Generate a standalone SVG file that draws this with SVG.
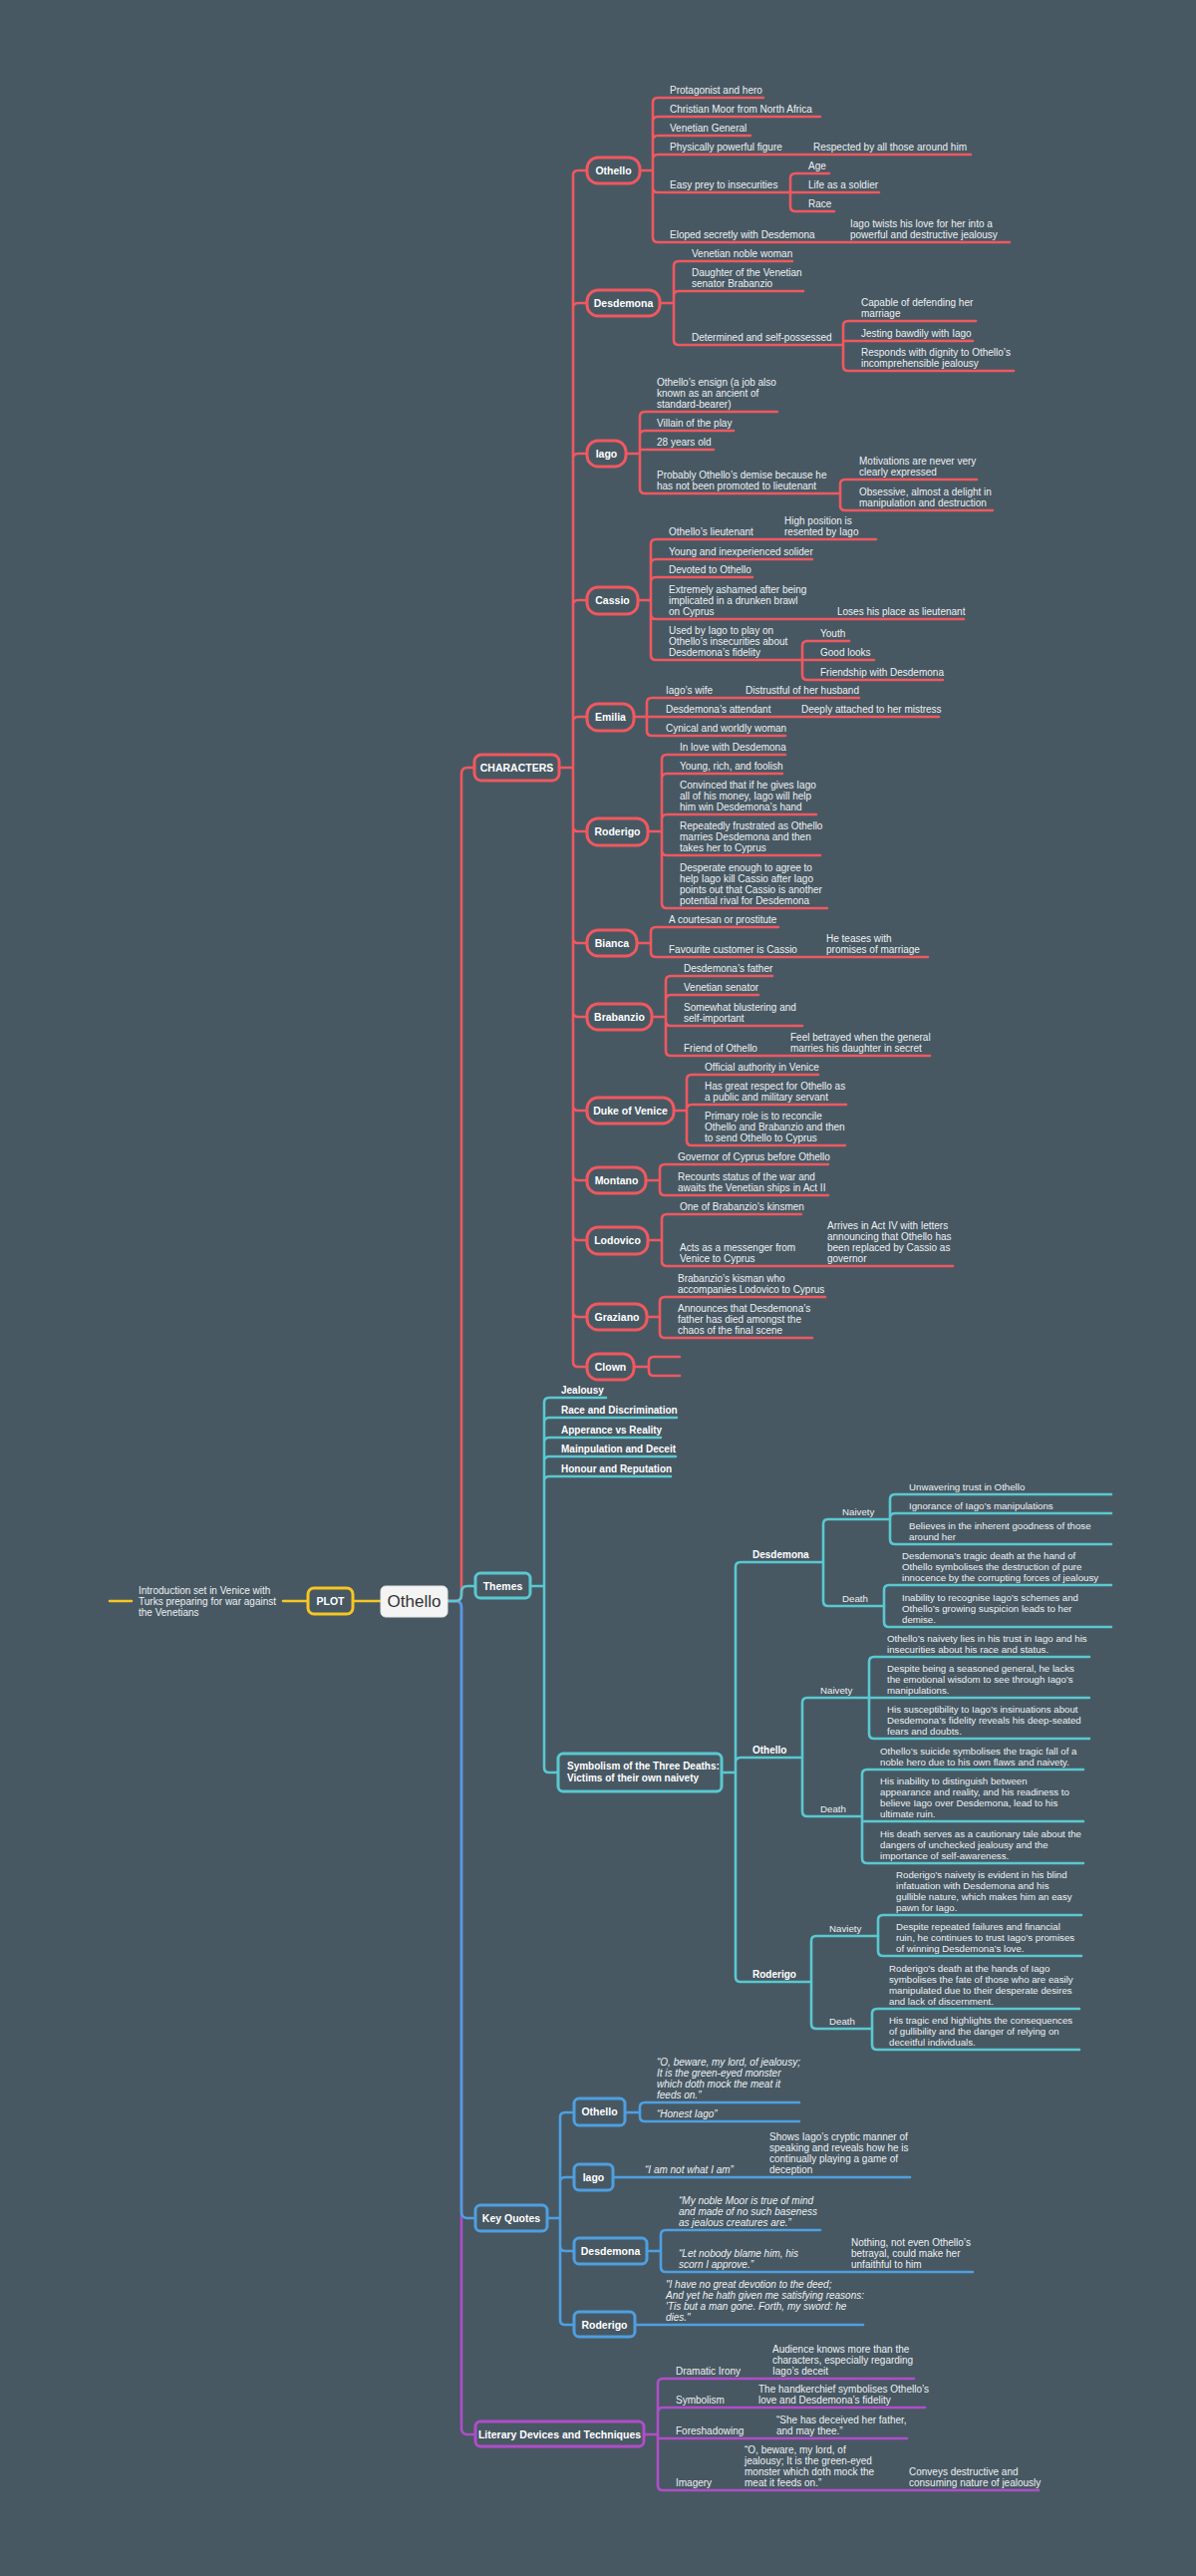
<svg xmlns="http://www.w3.org/2000/svg" width="1200" height="2584" viewBox="0 0 1200 2584">
<style>
text{font-family:"Liberation Sans",Arial,Helvetica,sans-serif;font-size:10px;fill:#eef0f2}
.b{font-weight:bold;fill:#fff;font-size:10.5px}
.c{text-anchor:middle}
.i{font-style:italic}
.s{font-size:9.7px}
path{fill:none;stroke-width:2.6;stroke-linecap:round;stroke-linejoin:round}
.r{stroke:#f0585f}.tl{stroke:#5ac8d0}.bl{stroke:#4f9fe0}.pu{stroke:#b04dc8}.ye{stroke:#f5c623}
rect{fill:#475863;stroke-width:3}
</style>
<rect x="0" y="0" width="1200" height="2584" style="fill:#475863;stroke:none"/>
<g id="connectors">
<path class="pu" d="M449 1606H457Q463 1606 463 1612V2436Q463 2442 469 2442H477"/>
<path class="bl" d="M449 1606H457Q463 1606 463 1612V2219Q463 2225 469 2225H477"/>
<path class="r" d="M449 1606H457Q463 1606 463 1600V776Q463 770 469 770H476"/>
<path class="tl" d="M449 1606H457Q463 1606 463 1600V1597Q463 1591 469 1591H477"/>
<path class="ye" d="M354 1606H382M284 1606H309M110 1606H132"/>
<g class="r">
<path d="M561 770H575V176Q575 171 580 171H589M561 770H575V309Q575 304 580 304H589M561 770H575V460Q575 455 580 455H589M561 770H575V607Q575 602 580 602H589M561 770H575V724Q575 719 580 719H589M561 770H575V829Q575 834 580 834H589M561 770H575V941Q575 946 580 946H589M561 770H575V1015Q575 1020 580 1020H589M561 770H575V1109Q575 1114 580 1114H589M561 770H575V1179Q575 1184 580 1184H589M561 770H575V1239Q575 1244 580 1244H589M561 770H575V1316Q575 1321 580 1321H589M561 770H575V1366Q575 1371 580 1371H589"/>
<path d="M642 171H655V103Q655 98 660 98H766M642 171H655V122Q655 117 660 117H823M642 171H655V141Q655 136 660 136H753M642 171H655V160Q655 155 660 155H974M642 171H655V188Q655 193 660 193H793M642 171H655V238Q655 243 660 243H1013"/>
<path d="M793 193V179Q793 174 798 174H832M793 193H882M793 193V207Q793 212 798 212H837"/>
<path d="M662 304H676V267Q676 262 681 262H795M662 304H676V297Q676 292 681 292H806M662 304H676V341Q676 346 681 346H846"/>
<path d="M846 346V327Q846 322 851 322H979M846 346V342H976M846 346V367Q846 372 851 372H1017"/>
<path d="M628 455H642V418Q642 413 647 413H780M628 455H642V437Q642 432 647 432H736M628 455H642V451H716M628 455H642V490Q642 495 647 495H843"/>
<path d="M843 495V486Q843 481 848 481H980M843 495V507Q843 512 848 512H996"/>
<path d="M640 602H653V546Q653 541 658 541H879M640 602H653V566Q653 561 658 561H815M640 602H653V584Q653 579 658 579H755M640 602H653V616Q653 621 658 621H967M640 602H653V657Q653 662 658 662H805"/>
<path d="M805 662V648Q805 643 810 643H852M805 662H877M805 662V677Q805 682 810 682H946"/>
<path d="M636 719H649V705Q649 700 654 700H862M636 719H942M636 719H649V733Q649 738 654 738H788"/>
<path d="M650 834H664V762Q664 757 669 757H788M650 834H664V781Q664 776 669 776H785M650 834H664V822Q664 817 669 817H819M650 834H664V853Q664 858 669 858H823M650 834H664V906Q664 911 669 911H830"/>
<path d="M639 946H653V935Q653 930 658 930H781M639 946H653V955Q653 960 658 960H931"/>
<path d="M654 1020H668V984Q668 979 673 979H775M654 1020H668V1003Q668 998 673 998H761M654 1020H668V1024Q668 1029 673 1029H805M654 1020H668V1054Q668 1059 673 1059H933"/>
<path d="M676 1114H689V1083Q689 1078 694 1078H821M676 1114H689V1113Q689 1108 694 1108H849M676 1114H689V1144Q689 1149 694 1149H848"/>
<path d="M648 1184H662V1173Q662 1168 667 1168H831M648 1184H662V1194Q662 1199 667 1199H831"/>
<path d="M650 1244H664V1223Q664 1218 669 1218H804M650 1244H664V1265Q664 1270 669 1270H956"/>
<path d="M649 1321H662V1306Q662 1301 667 1301H828M649 1321H662V1337Q662 1342 667 1342H815"/>
<path d="M636 1371H651V1366Q651 1361 656 1361H682M636 1371H651V1375Q651 1380 656 1380H682"/>
</g>
<g class="tl">
<path d="M532 1591H546V1407Q546 1402 551 1402H608M532 1591H546V1427Q546 1422 551 1422H679M532 1591H546V1447Q546 1442 551 1442H663M532 1591H546V1466Q546 1461 551 1461H678M532 1591H546V1486Q546 1481 551 1481H673M532 1591H546V1773Q546 1778 551 1778H560"/>
<path d="M724 1778H738V1572Q738 1567 743 1567H826M724 1778H738V1768Q738 1763 743 1763H805M724 1778H738V1983Q738 1988 743 1988H814"/>
<path d="M826 1567V1529Q826 1524 831 1524H893M826 1567V1606Q826 1611 831 1611H887"/>
<path d="M893 1524V1504Q893 1499 898 1499H1115M893 1524V1523Q893 1518 898 1518H1115M893 1524V1544Q893 1549 898 1549H1115"/>
<path d="M887 1611V1595Q887 1590 892 1590H1115M887 1611V1627Q887 1632 892 1632H1115"/>
<path d="M805 1763V1708Q805 1703 810 1703H872M805 1763V1817Q805 1822 810 1822H865"/>
<path d="M872 1703V1667Q872 1662 877 1662H1093M872 1703H1093M872 1703V1739Q872 1744 877 1744H1093"/>
<path d="M865 1822V1780Q865 1775 870 1775H1087M865 1822V1827H1087M865 1822V1864Q865 1869 870 1869H1087"/>
<path d="M814 1988V1947Q814 1942 819 1942H881M814 1988V2030Q814 2035 819 2035H875"/>
<path d="M881 1942V1926Q881 1921 886 1921H1085M881 1942V1957Q881 1962 886 1962H1085"/>
<path d="M875 2035V2020Q875 2015 880 2015H1083M875 2035V2051Q875 2056 880 2056H1083"/>
</g>
<g class="bl">
<path d="M549 2225H562V2124Q562 2119 567 2119H576M549 2225H562V2189Q562 2184 567 2184H576M549 2225H562V2253Q562 2258 567 2258H576M549 2225H562V2327Q562 2332 567 2332H576"/>
<path d="M627 2119H642V2114Q642 2109 647 2109H802M627 2119H642V2123Q642 2128 647 2128H802"/>
<path d="M615 2184H913"/>
<path d="M649 2258H663V2242Q663 2237 668 2237H823M649 2258H663V2274Q663 2279 668 2279H976"/>
<path d="M637 2332H866"/>
</g>
<g class="pu">
<path d="M646 2442H660V2391Q660 2386 665 2386H917M646 2442H660V2420Q660 2415 665 2415H928M646 2442H660V2446H910M646 2442H660V2493Q660 2498 665 2498H1042"/>
</g>
</g>
<g id="root"><rect x="382" y="1591" width="67" height="31" rx="5" style="fill:#f4f4f4;stroke:#e6e6e6;stroke-width:1"/><text x="415.5" y="1612" class="c" style="font-size:17px;fill:#333">Othello</text></g>
<g id="plot"><rect class="ye" x="309" y="1593" width="45" height="26" rx="6"/><text x="331.5" y="1610" class="b c">PLOT</text>
<text x="139" y="1599">Introduction set in Venice with<tspan x="139" dy="11">Turks preparing for war against</tspan><tspan x="139" dy="11">the Venetians</tspan></text></g>
<g id="characters"><rect class="r" x="476" y="757" width="85" height="26" rx="7"/><text x="518.5" y="774" class="b c">CHARACTERS</text></g>
<g id="char-othello"><rect class="r" x="589" y="158" width="53" height="26" rx="11"/><text x="615.5" y="175" class="b c">Othello</text>
<text x="672" y="94">Protagonist and hero</text><text x="672" y="113">Christian Moor from North Africa</text><text x="672" y="132">Venetian General</text><text x="672" y="151">Physically powerful figure</text><text x="816" y="151">Respected by all those around him</text><text x="672" y="189">Easy prey to insecurities</text><text x="811" y="170">Age</text><text x="811" y="189">Life as a soldier</text><text x="811" y="208">Race</text><text x="672" y="239">Eloped secretly with Desdemona</text><text x="853" y="228">Iago twists his love for her into a<tspan x="853" dy="11">powerful and destructive jealousy</tspan></text></g>
<g id="char-desdemona"><rect class="r" x="589" y="291" width="73" height="26" rx="11"/><text x="625.5" y="308" class="b c">Desdemona</text>
<text x="694" y="258">Venetian noble woman</text><text x="694" y="277">Daughter of the Venetian<tspan x="694" dy="11">senator Brabanzio</tspan></text><text x="694" y="342">Determined and self-possessed</text><text x="864" y="307">Capable of defending her<tspan x="864" dy="11">marriage</tspan></text><text x="864" y="338">Jesting bawdily with Iago</text><text x="864" y="357">Responds with dignity to Othello’s<tspan x="864" dy="11">incomprehensible jealousy</tspan></text></g>
<g id="char-iago"><rect class="r" x="589" y="442" width="39" height="26" rx="11"/><text x="608.5" y="459" class="b c">Iago</text>
<text x="659" y="387">Othello’s ensign (a job also<tspan x="659" dy="11">known as an ancient of</tspan><tspan x="659" dy="11">standard-bearer)</tspan></text><text x="659" y="428">Villain of the play</text><text x="659" y="447">28 years old</text><text x="659" y="480">Probably Othello’s demise because he<tspan x="659" dy="11">has not been promoted to lieutenant</tspan></text><text x="862" y="466">Motivations are never very<tspan x="862" dy="11">clearly expressed</tspan></text><text x="862" y="497">Obsessive, almost a delight in<tspan x="862" dy="11">manipulation and destruction</tspan></text></g>
<g id="char-cassio"><rect class="r" x="589" y="589" width="51" height="27" rx="11"/><text x="614.5" y="606" class="b c">Cassio</text>
<text x="671" y="537">Othello’s lieutenant</text><text x="787" y="526">High position is<tspan x="787" dy="11">resented by Iago</tspan></text><text x="671" y="557">Young and inexperienced solider</text><text x="671" y="575">Devoted to Othello</text><text x="671" y="595">Extremely ashamed after being<tspan x="671" dy="11">implicated in a drunken brawl</tspan><tspan x="671" dy="11">on Cyprus</tspan></text><text x="840" y="617">Loses his place as lieutenant</text><text x="671" y="636">Used by Iago to play on<tspan x="671" dy="11">Othello’s insecurities about</tspan><tspan x="671" dy="11">Desdemona’s fidelity</tspan></text><text x="823" y="639">Youth</text><text x="823" y="658">Good looks</text><text x="823" y="678">Friendship with Desdemona</text></g>
<g id="char-emilia"><rect class="r" x="589" y="706" width="47" height="27" rx="11"/><text x="612.5" y="723" class="b c">Emilia</text>
<text x="668" y="696">Iago’s wife</text><text x="748" y="696">Distrustful of her husband</text><text x="668" y="715">Desdemona’s attendant</text><text x="804" y="715">Deeply attached to her mistress</text><text x="668" y="734">Cynical and worldly woman</text></g>
<g id="char-roderigo"><rect class="r" x="589" y="821" width="61" height="27" rx="11"/><text x="619.5" y="838" class="b c">Roderigo</text>
<text x="682" y="753">In love with Desdemona</text><text x="682" y="772">Young, rich, and foolish</text><text x="682" y="791">Convinced that if he gives Iago<tspan x="682" dy="11">all of his money, Iago will help</tspan><tspan x="682" dy="11">him win Desdemona’s hand</tspan></text><text x="682" y="832">Repeatedly frustrated as Othello<tspan x="682" dy="11">marries Desdemona and then</tspan><tspan x="682" dy="11">takes her to Cyprus</tspan></text><text x="682" y="874">Desperate enough to agree to<tspan x="682" dy="11">help Iago kill Cassio after Iago</tspan><tspan x="682" dy="11">points out that Cassio is another</tspan><tspan x="682" dy="11">potential rival for Desdemona</tspan></text></g>
<g id="char-bianca"><rect class="r" x="589" y="933" width="50" height="26" rx="11"/><text x="614" y="950" class="b c">Bianca</text>
<text x="671" y="926">A courtesan or prostitute</text><text x="671" y="956">Favourite customer is Cassio</text><text x="829" y="945">He teases with<tspan x="829" dy="11">promises of marriage</tspan></text></g>
<g id="char-brabanzio"><rect class="r" x="589" y="1007" width="65" height="26" rx="11"/><text x="621.5" y="1024" class="b c">Brabanzio</text>
<text x="686" y="975">Desdemona’s father</text><text x="686" y="994">Venetian senator</text><text x="686" y="1014">Somewhat blustering and<tspan x="686" dy="11">self-important</tspan></text><text x="686" y="1055">Friend of Othello</text><text x="793" y="1044">Feel betrayed when the general<tspan x="793" dy="11">marries his daughter in secret</tspan></text></g>
<g id="char-duke"><rect class="r" x="589" y="1101" width="87" height="26" rx="11"/><text x="632.5" y="1118" class="b c">Duke of Venice</text>
<text x="707" y="1074">Official authority in Venice</text><text x="707" y="1093">Has great respect for Othello as<tspan x="707" dy="11">a public and military servant</tspan></text><text x="707" y="1123">Primary role is to reconcile<tspan x="707" dy="11">Othello and Brabanzio and then</tspan><tspan x="707" dy="11">to send Othello to Cyprus</tspan></text></g>
<g id="char-montano"><rect class="r" x="589" y="1171" width="59" height="26" rx="11"/><text x="618.5" y="1188" class="b c">Montano</text>
<text x="680" y="1164">Governor of Cyprus before Othello</text><text x="680" y="1184">Recounts status of the war and<tspan x="680" dy="11">awaits the Venetian ships in Act II</tspan></text></g>
<g id="char-lodovico"><rect class="r" x="589" y="1231" width="61" height="27" rx="11"/><text x="619.5" y="1248" class="b c">Lodovico</text>
<text x="682" y="1214">One of Brabanzio’s kinsmen</text><text x="682" y="1255">Acts as a messenger from<tspan x="682" dy="11">Venice to Cyprus</tspan></text><text x="830" y="1233">Arrives in Act IV with letters<tspan x="830" dy="11">announcing that Othello has</tspan><tspan x="830" dy="11">been replaced by Cassio as</tspan><tspan x="830" dy="11">governor</tspan></text></g>
<g id="char-graziano"><rect class="r" x="589" y="1308" width="60" height="26" rx="11"/><text x="619" y="1325" class="b c">Graziano</text>
<text x="680" y="1286">Brabanzio’s kisman who<tspan x="680" dy="11">accompanies Lodovico to Cyprus</tspan></text><text x="680" y="1316">Announces that Desdemona’s<tspan x="680" dy="11">father has died amongst the</tspan><tspan x="680" dy="11">chaos of the final scene</tspan></text></g>
<g id="char-clown"><rect class="r" x="589" y="1358" width="47" height="26" rx="11"/><text x="612.5" y="1375" class="b c">Clown</text></g>
<g id="themes"><rect class="tl" x="477" y="1578" width="55" height="25" rx="5"/><text x="504.5" y="1595" class="b c">Themes</text>
<text class="b" x="563" y="1398" style="font-size:10px">Jealousy</text><text class="b" x="563" y="1418" style="font-size:10px">Race and Discrimination</text><text class="b" x="563" y="1438" style="font-size:10px">Apperance vs Reality</text><text class="b" x="563" y="1457" style="font-size:10px">Mainpulation and Deceit</text><text class="b" x="563" y="1477" style="font-size:10px">Honour and Reputation</text></g>
<g id="symbolism"><rect class="tl" x="560" y="1759" width="164" height="38" rx="5"/><text class="b" x="569" y="1775" style="font-size:10px">Symbolism of the Three Deaths:<tspan x="569" dy="12">Victims of their own naivety</tspan></text>
<text class="b" x="755" y="1563" style="font-size:10px">Desdemona</text><text class="s" x="845" y="1520">Naivety</text><text class="s" x="845" y="1607">Death</text>
<text class="s" x="912" y="1495">Unwavering trust in Othello</text><text class="s" x="912" y="1514">Ignorance of Iago’s manipulations</text><text class="s" x="912" y="1534">Believes in the inherent goodness of those<tspan x="912" dy="11">around her</tspan></text>
<text class="s" x="905" y="1564">Desdemona’s tragic death at the hand of<tspan x="905" dy="11">Othello symbolises the destruction of pure</tspan><tspan x="905" dy="11">innocence by the corrupting forces of jealousy</tspan></text><text class="s" x="905" y="1606">Inability to recognise Iago’s schemes and<tspan x="905" dy="11">Othello’s growing suspicion leads to her</tspan><tspan x="905" dy="11">demise.</tspan></text>
<text class="b" x="755" y="1759" style="font-size:10px">Othello</text><text class="s" x="823" y="1699">Naivety</text><text class="s" x="823" y="1818">Death</text>
<text class="s" x="890" y="1647">Othello’s naivety lies in his trust in Iago and his<tspan x="890" dy="11">insecurities about his race and status.</tspan></text><text class="s" x="890" y="1677">Despite being a seasoned general, he lacks<tspan x="890" dy="11">the emotional wisdom to see through Iago’s</tspan><tspan x="890" dy="11">manipulations.</tspan></text><text class="s" x="890" y="1718">His susceptibility to Iago’s insinuations about<tspan x="890" dy="11">Desdemona’s fidelity reveals his deep-seated</tspan><tspan x="890" dy="11">fears and doubts.</tspan></text>
<text class="s" x="883" y="1760">Othello’s suicide symbolises the tragic fall of a<tspan x="883" dy="11">noble hero due to his own flaws and naivety.</tspan></text><text class="s" x="883" y="1790">His inability to distinguish between<tspan x="883" dy="11">appearance and reality, and his readiness to</tspan><tspan x="883" dy="11">believe Iago over Desdemona, lead to his</tspan><tspan x="883" dy="11">ultimate ruin.</tspan></text><text class="s" x="883" y="1843">His death serves as a cautionary tale about the<tspan x="883" dy="11">dangers of unchecked jealousy and the</tspan><tspan x="883" dy="11">importance of self-awareness.</tspan></text>
<text class="b" x="755" y="1984" style="font-size:10px">Roderigo</text><text class="s" x="832" y="1938">Naviety</text><text class="s" x="832" y="2031">Death</text>
<text class="s" x="899" y="1884">Roderigo’s naivety is evident in his blind<tspan x="899" dy="11">infatuation with Desdemona and his</tspan><tspan x="899" dy="11">gullible nature, which makes him an easy</tspan><tspan x="899" dy="11">pawn for Iago.</tspan></text><text class="s" x="899" y="1936">Despite repeated failures and financial<tspan x="899" dy="11">ruin, he continues to trust Iago’s promises</tspan><tspan x="899" dy="11">of winning Desdemona’s love.</tspan></text>
<text class="s" x="892" y="1978">Roderigo’s death at the hands of Iago<tspan x="892" dy="11">symbolises the fate of those who are easily</tspan><tspan x="892" dy="11">manipulated due to their desperate desires</tspan><tspan x="892" dy="11">and lack of discernment.</tspan></text><text class="s" x="892" y="2030">His tragic end highlights the consequences<tspan x="892" dy="11">of gullibility and the danger of relying on</tspan><tspan x="892" dy="11">deceitful individuals.</tspan></text></g>
<g id="keyquotes"><rect class="bl" x="477" y="2212" width="72" height="26" rx="5"/><text x="513" y="2229" class="b c">Key Quotes</text></g>
<g id="kq-othello"><rect class="bl" x="576" y="2105" width="51" height="27" rx="5"/><text x="601.5" y="2122" class="b c">Othello</text>
<text class="i" x="659" y="2072">“O, beware, my lord, of jealousy;<tspan x="659" dy="11">It is the green-eyed monster</tspan><tspan x="659" dy="11">which doth mock the meat it</tspan><tspan x="659" dy="11">feeds on.”</tspan></text><text class="i" x="659" y="2124">“Honest Iago”</text></g>
<g id="kq-iago"><rect class="bl" x="576" y="2171" width="39" height="26" rx="5"/><text x="595.5" y="2188" class="b c">Iago</text>
<text class="i" x="647" y="2180">“I am not what I am”</text><text x="772" y="2147">Shows Iago’s cryptic manner of<tspan x="772" dy="11">speaking and reveals how he is</tspan><tspan x="772" dy="11">continually playing a game of</tspan><tspan x="772" dy="11">deception</tspan></text></g>
<g id="kq-desdemona"><rect class="bl" x="576" y="2245" width="73" height="26" rx="5"/><text x="612.5" y="2262" class="b c">Desdemona</text>
<text class="i" x="681" y="2211">“My noble Moor is true of mind<tspan x="681" dy="11">and made of no such baseness</tspan><tspan x="681" dy="11">as jealous creatures are.”</tspan></text><text class="i" x="681" y="2264">“Let nobody blame him, his<tspan x="681" dy="11">scorn I approve.”</tspan></text><text x="854" y="2253">Nothing, not even Othello’s<tspan x="854" dy="11">betrayal, could make her</tspan><tspan x="854" dy="11">unfaithful to him</tspan></text></g>
<g id="kq-roderigo"><rect class="bl" x="576" y="2319" width="61" height="25" rx="5"/><text x="606.5" y="2336" class="b c">Roderigo</text>
<text class="i" x="668" y="2295">"I have no great devotion to the deed;<tspan x="668" dy="11">And yet he hath given me satisfying reasons:</tspan><tspan x="668" dy="11">'Tis but a man gone. Forth, my sword: he</tspan><tspan x="668" dy="11">dies."</tspan></text></g>
<g id="literary"><rect class="pu" x="477" y="2429" width="169" height="25" rx="5"/><text x="561.5" y="2446" class="b c">Literary Devices and Techniques</text>
<text x="678" y="2382">Dramatic Irony</text><text x="775" y="2360">Audience knows more than the<tspan x="775" dy="11">characters, especially regarding</tspan><tspan x="775" dy="11">Iago’s deceit</tspan></text>
<text x="678" y="2411">Symbolism</text><text x="761" y="2400">The handkerchief symbolises Othello’s<tspan x="761" dy="11">love and Desdemona’s fidelity</tspan></text>
<text x="678" y="2442">Foreshadowing</text><text x="779" y="2431">“She has deceived her father,<tspan x="779" dy="11">and may thee.”</tspan></text>
<text x="678" y="2494">Imagery</text><text x="747" y="2461">“O, beware, my lord, of<tspan x="747" dy="11">jealousy; It is the green-eyed</tspan><tspan x="747" dy="11">monster which doth mock the</tspan><tspan x="747" dy="11">meat it feeds on.”</tspan></text><text x="912" y="2483">Conveys destructive and<tspan x="912" dy="11">consuming nature of jealously</tspan></text></g>
</svg>
